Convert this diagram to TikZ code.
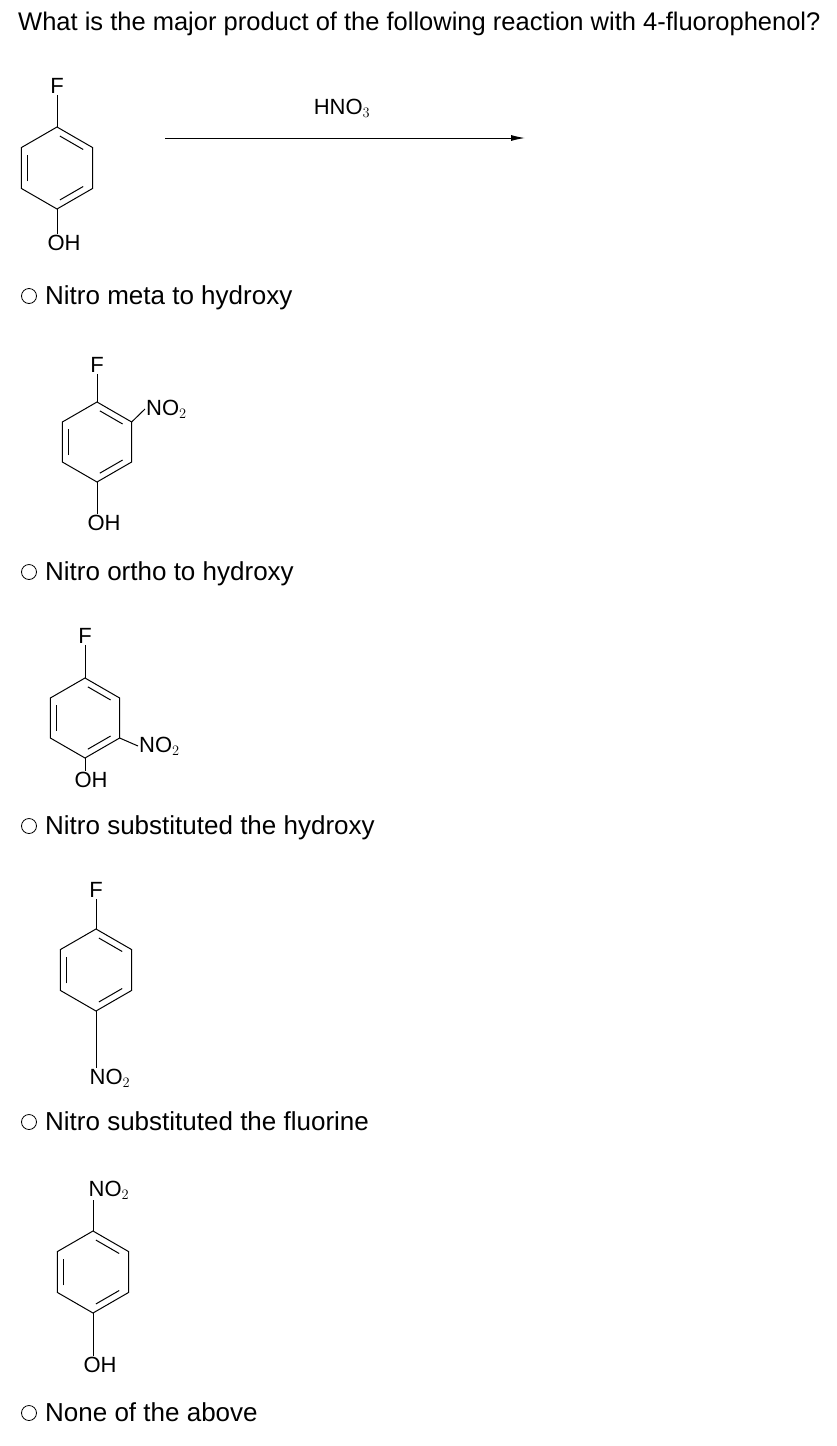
\documentclass[tikz,border=0pt]{standalone}
\usepackage{fontspec}
\setmainfont{Liberation Sans}
\usetikzlibrary{arrows.meta,calc}
\newcommand{\benz}[4]{% name, cx, cy, r
  \foreach \i/\a in {1/-90,2/-30,3/30,4/90,5/150,6/210}{
    \coordinate (#1\i) at ($(#2,#3)+(\a:#4)$);
    \coordinate (#1i\i) at ($(#2,#3)+(\a:#4*0.82)$);}
  \draw[bond] (#11)--(#12)--(#13)--(#14)--(#15)--(#16)--cycle;
  \draw[bond] ($(#1i5)!0.1!(#1i6)$)--($(#1i6)!0.1!(#1i5)$);
  \draw[bond] ($(#1i1)!0.1!(#1i2)$)--($(#1i2)!0.1!(#1i1)$);
  \draw[bond] ($(#1i3)!0.1!(#1i4)$)--($(#1i4)!0.1!(#1i3)$);
}
\begin{document}
\begin{tikzpicture}[x=1pt,y=-1pt,
  bond/.style={line width=1pt},
  lab/.style={font=\fontsize{22}{26}\selectfont,inner sep=1pt},
  opt/.style={font=\fontsize{26}{30}\selectfont,anchor=base west,inner sep=0pt},
  radio/.style={draw,circle,minimum size=15pt,inner sep=0pt,line width=0.8pt}]
\useasboundingbox (0,0) rectangle (836,1446);
\node[font=\fontsize{25.5}{30}\selectfont,anchor=base west,inner sep=0pt] (title) at (18,30) {What is the major product of the following reaction with 4-fluorophenol?};
% reactant
\benz{a}{57}{168}{41}
\node[lab] (aF) at (57,86) {F};
\node[lab] (aOH) at (64,243) {OH};
\draw[bond] (aF.south -| a1) -- (a1);
\draw[bond] (a4) -- (aOH.north -| a4);
\coordinate (arS) at (165,138); \coordinate (arE) at (525,138);
\draw[line width=1pt,-{Latex[length=14pt,width=6pt]}] (arS) -- (arE);
\node[lab] (hno) at (342,108) {HNO$_3$};
% option 1
\node[radio] (r1) at (29,296) {};
\node[opt] (t1) at (45,304) {Nitro meta to hydroxy};
\benz{b}{97}{442}{40}
\node[lab] (bF) at (97,365) {F};
\node[lab] (bOH) at (104,523) {OH};
\node[lab,anchor=west] (bN) at (145,409) {NO$_2$};
\draw[bond] (bF.south -| b1) -- (b1);
\draw[bond] (b4) -- (bOH.north -| b4);
\draw[bond] (b2) -- (bN.west);
% option 2
\node[radio] (r2) at (29,572) {};
\node[opt] (t2) at (45,580) {Nitro ortho to hydroxy};
\benz{c}{85}{718}{40}
\node[lab] (cF) at (85,636) {F};
\node[lab] (cOH) at (91,780) {OH};
\node[lab,anchor=west] (cN) at (138,746) {NO$_2$};
\draw[bond] (cF.south -| c1) -- (c1);
\draw[bond] (c4) -- (cOH.north -| c4);
\draw[bond] (c3) -- (cN.west);
% option 3
\node[radio] (r3) at (29,826) {};
\node[opt] (t3) at (45,834) {Nitro substituted the hydroxy};
\benz{d}{96}{970}{41}
\node[lab] (dF) at (96,890) {F};
\node[lab] (dN) at (110,1078) {NO$_2$};
\draw[bond] (dF.south -| d1) -- (d1);
\draw[bond] (d4) -- (dN.north -| d4);
% option 4
\node[radio] (r4) at (29,1122) {};
\node[opt] (t4) at (45,1130) {Nitro substituted the fluorine};
\benz{e}{93}{1272}{41}
\node[lab] (eN) at (109,1190) {NO$_2$};
\node[lab] (eOH) at (100,1365) {OH};
\draw[bond] (eN.south -| e1) -- (e1);
\draw[bond] (e4) -- (eOH.north -| e4);
% option 5
\node[radio] (r5) at (29,1413) {};
\node[opt] (t5) at (45,1421) {None of the above};
\end{tikzpicture}
\end{document}
